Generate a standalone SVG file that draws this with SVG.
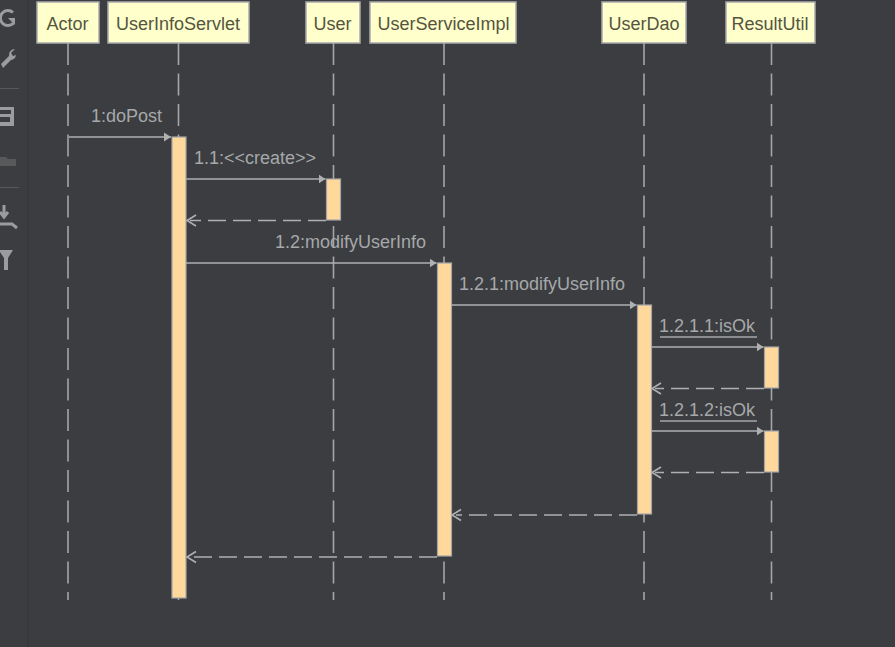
<svg xmlns="http://www.w3.org/2000/svg" width="895" height="647" viewBox="0 0 895 647">
<style>
.node{fill:#ffffcc;stroke:#a9abad;stroke-width:1.5}
.nt{font:18px "Liberation Sans",Arial,sans-serif;fill:#55553f;text-anchor:middle}
.lbl{font:18px "Liberation Sans",Arial,sans-serif;fill:#a6a8aa}
.life{stroke:#a4a6a8;stroke-width:1.6;stroke-dasharray:22 8.5;fill:none}
.act{fill:#ffd99c;stroke:#a4a6a8;stroke-width:1.2}
.call{stroke:#aeb0b2;stroke-width:1.6;fill:none;marker-end:url(#solid)}
.ret{stroke:#aeb0b2;stroke-width:1.6;stroke-dasharray:18 7;fill:none}
.open{stroke:#aeb0b2;stroke-width:1.6;fill:none}
.ul{stroke:#a6a8aa;stroke-width:1.6}
.ic{fill:#9a9c9e}
.ics{fill:none;stroke:#9a9c9e;stroke-width:3}
</style>
<defs>
<marker id="solid" markerUnits="userSpaceOnUse" markerWidth="9" markerHeight="10" refX="7" refY="5" orient="auto"><path d="M0 0.5L7 5L0 9.5Z" fill="#aeb0b2"/></marker>
</defs>
<rect width="895" height="647" fill="#3b3d40"/>
<rect x="27.500" y="0" width="1" height="647" fill="#323436"/>
<g id="toolbar">
<path class="ics" d="M13 12.500A7.500 7.500 0 1 0 13.500 23"/><path class="ic" d="M8 18h7v7z"/>
<path class="ic" d="M1 64L9 56A6 6 0 0 1 15 49L11 53L13 56L16 55A6 6 0 0 1 11 60L3 68Z"/>
<rect x="0" y="88" width="19" height="1" fill="#57595b"/>
<path class="ic" d="M0 107H14V126H0V122H10V117H0V114H11V110H0Z"/>
<path d="M0 157H6L8 159H16V166H0Z" fill="#57595b"/>
<rect x="0" y="187" width="19" height="1" fill="#57595b"/>
<path class="ics" d="M4 205V217M0 212L4 217L8 212M0 224H12L17 228" stroke-width="2.500"/>
<path class="ic" d="M0 250H13L8 258V270H4V258L0 252Z"/>
</g>
<g id="connectors">
<path class="life" d="M68 43V600"/>
<path class="life" d="M178.500 43V600"/>
<path class="life" d="M333.500 43V600"/>
<path class="life" d="M444 43V600"/>
<path class="life" d="M644 43V600"/>
<path class="life" d="M771.500 43V600"/>
</g>
<g id="activations">
<rect class="act" x="172" y="137" width="14" height="461"/>
<rect class="act" x="326.500" y="179" width="14" height="41"/>
<rect class="act" x="437.500" y="263" width="14" height="293"/>
<rect class="act" x="637.500" y="305" width="14" height="209"/>
<rect class="act" x="764.500" y="347" width="14" height="41"/>
<rect class="act" x="764.500" y="431" width="14" height="41"/>
</g>
<g id="messages">
<path class="call" d="M69 137H171"/>
<path class="call" d="M186 179H325.500"/>
<path class="ret" d="M326 220.500H190"/><path class="open" d="M196 215L187 220.500L196 226"/>
<path class="call" d="M186 263H436.500"/>
<path class="call" d="M451.500 305H636.500"/>
<path class="call" d="M651.500 347H763.500"/>
<path class="ret" d="M764 388.500H655"/><path class="open" d="M661 383L652 388.500L661 394"/>
<path class="call" d="M651.500 431H763.500"/>
<path class="ret" d="M764 472.500H655"/><path class="open" d="M661 467L652 472.500L661 478"/>
<path class="ret" d="M637 515H456"/><path class="open" d="M461 509.500L452 515L461 520.500"/>
<path class="ret" d="M437 557H191"/><path class="open" d="M196 551.500L187 557L196 562.500"/>
<line class="ul" x1="660" y1="337" x2="757" y2="337"/>
<line class="ul" x1="660" y1="421" x2="757" y2="421"/>
</g>
<g id="labels">
<text class="lbl" x="91" y="122">1:doPost</text>
<text class="lbl" x="194" y="164">1.1:&lt;&lt;create&gt;&gt;</text>
<text class="lbl" x="275" y="248">1.2:modifyUserInfo</text>
<text class="lbl" x="459" y="290">1.2.1:modifyUserInfo</text>
<text class="lbl" x="659" y="332">1.2.1.1:isOk</text>
<text class="lbl" x="659" y="416">1.2.1.2:isOk</text>
</g>
<g id="actor"><rect class="node" x="37" y="2" width="62" height="41"/><text class="nt" x="67.500" y="30">Actor</text></g>
<g id="userinfoservlet"><rect class="node" x="108" y="2" width="141" height="41"/><text class="nt" x="178" y="30">UserInfoServlet</text></g>
<g id="user"><rect class="node" x="306" y="2" width="54" height="41"/><text class="nt" x="332.500" y="30">User</text></g>
<g id="userserviceimpl"><rect class="node" x="370" y="2" width="146" height="41"/><text class="nt" x="443.500" y="30">UserServiceImpl</text></g>
<g id="userdao"><rect class="node" x="602" y="2" width="84" height="41"/><text class="nt" x="644" y="30">UserDao</text></g>
<g id="resultutil"><rect class="node" x="726" y="2" width="89" height="41"/><text class="nt" x="770" y="30">ResultUtil</text></g>
</svg>
